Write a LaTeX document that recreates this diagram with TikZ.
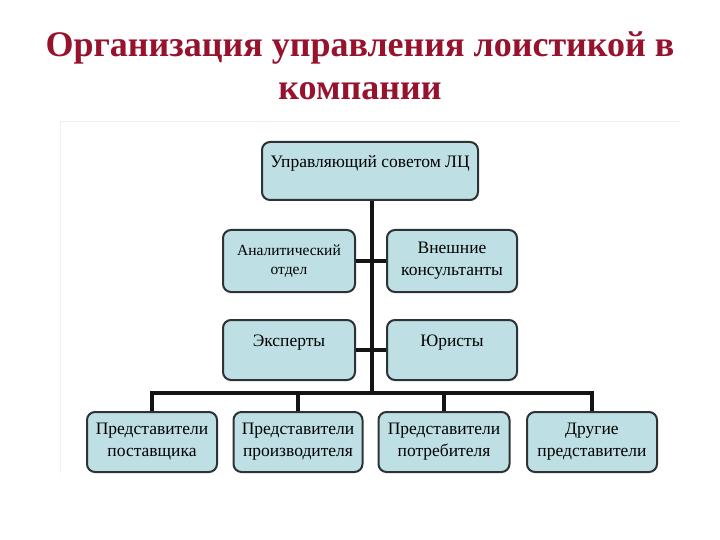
\documentclass[tikz,border=0pt]{standalone}
\usepackage{fontspec}
\setmainfont{Liberation Serif}
\usetikzlibrary{positioning, calc}

\definecolor{titulcvet}{RGB}{150,18,45}
\definecolor{yachejka}{RGB}{190,224,228}
\definecolor{kontur}{RGB}{45,50,52}

\begin{document}
\begin{tikzpicture}[x=1pt, y=-1pt,
    otdel/.style={rectangle, rounded corners=8pt, draw=kontur, line width=2pt,
      fill=yachejka, align=center, inner sep=2pt, minimum height=60pt,
      font=\fontsize{17.5}{22}\selectfont},
    odna/.style={text depth=18pt},
    liniya/.style={line width=3.2pt, draw=black!92}]
  \useasboundingbox (0,0) rectangle (720,540);
  % faint frame of the picture
  \draw[gray!12, line width=1pt] (60,473) -- (60,122) -- (680,122);

  \node[font=\fontsize{36}{43}\selectfont\bfseries, text=titulcvet, align=center]
    (titul) at (360,66) {Организация управления лоистикой в\\компании};

  \node[otdel, odna, minimum width=216pt, minimum height=58pt] (boss) at (370,171) {Управляющий советом ЛЦ};
  \node[otdel, minimum width=132pt, minimum height=62pt, font=\fontsize{15.5}{19}\selectfont] (analit) at (289,261) {Аналитический\\отдел};
  \node[otdel, minimum width=130pt, minimum height=62pt] (konsult) at (452,261) {Внешние\\консультанты};
  \node[otdel, odna, minimum width=132pt] (eksp) at (289,350) {Эксперты};
  \node[otdel, odna, minimum width=130pt] (jur) at (452,350) {Юристы};

  \node[otdel, minimum width=130pt] (post) at (152,442) {Представители\\поставщика};
  \node[otdel, minimum width=129pt] (proizv) at (298,442) {Представители\\производителя};
  \node[otdel, minimum width=131pt] (potreb) at (444,442) {Представители\\потребителя};
  \node[otdel, minimum width=130pt] (drug) at (592,442) {Другие\\представители};

  \coordinate (stvol) at (372,393);

  \draw[liniya] (boss.south -| stvol) -- (stvol);
  \draw[liniya] (analit.east) -- (konsult.west);
  \draw[liniya] (eksp.east) -- (jur.west);
  \draw[liniya] (post.north) -- (post.north |- stvol) -- (drug.north |- stvol) -- (drug.north);
  \draw[liniya] (proizv.north) -- (proizv.north |- stvol);
  \draw[liniya] (potreb.north) -- (potreb.north |- stvol);
\end{tikzpicture}
\end{document}
